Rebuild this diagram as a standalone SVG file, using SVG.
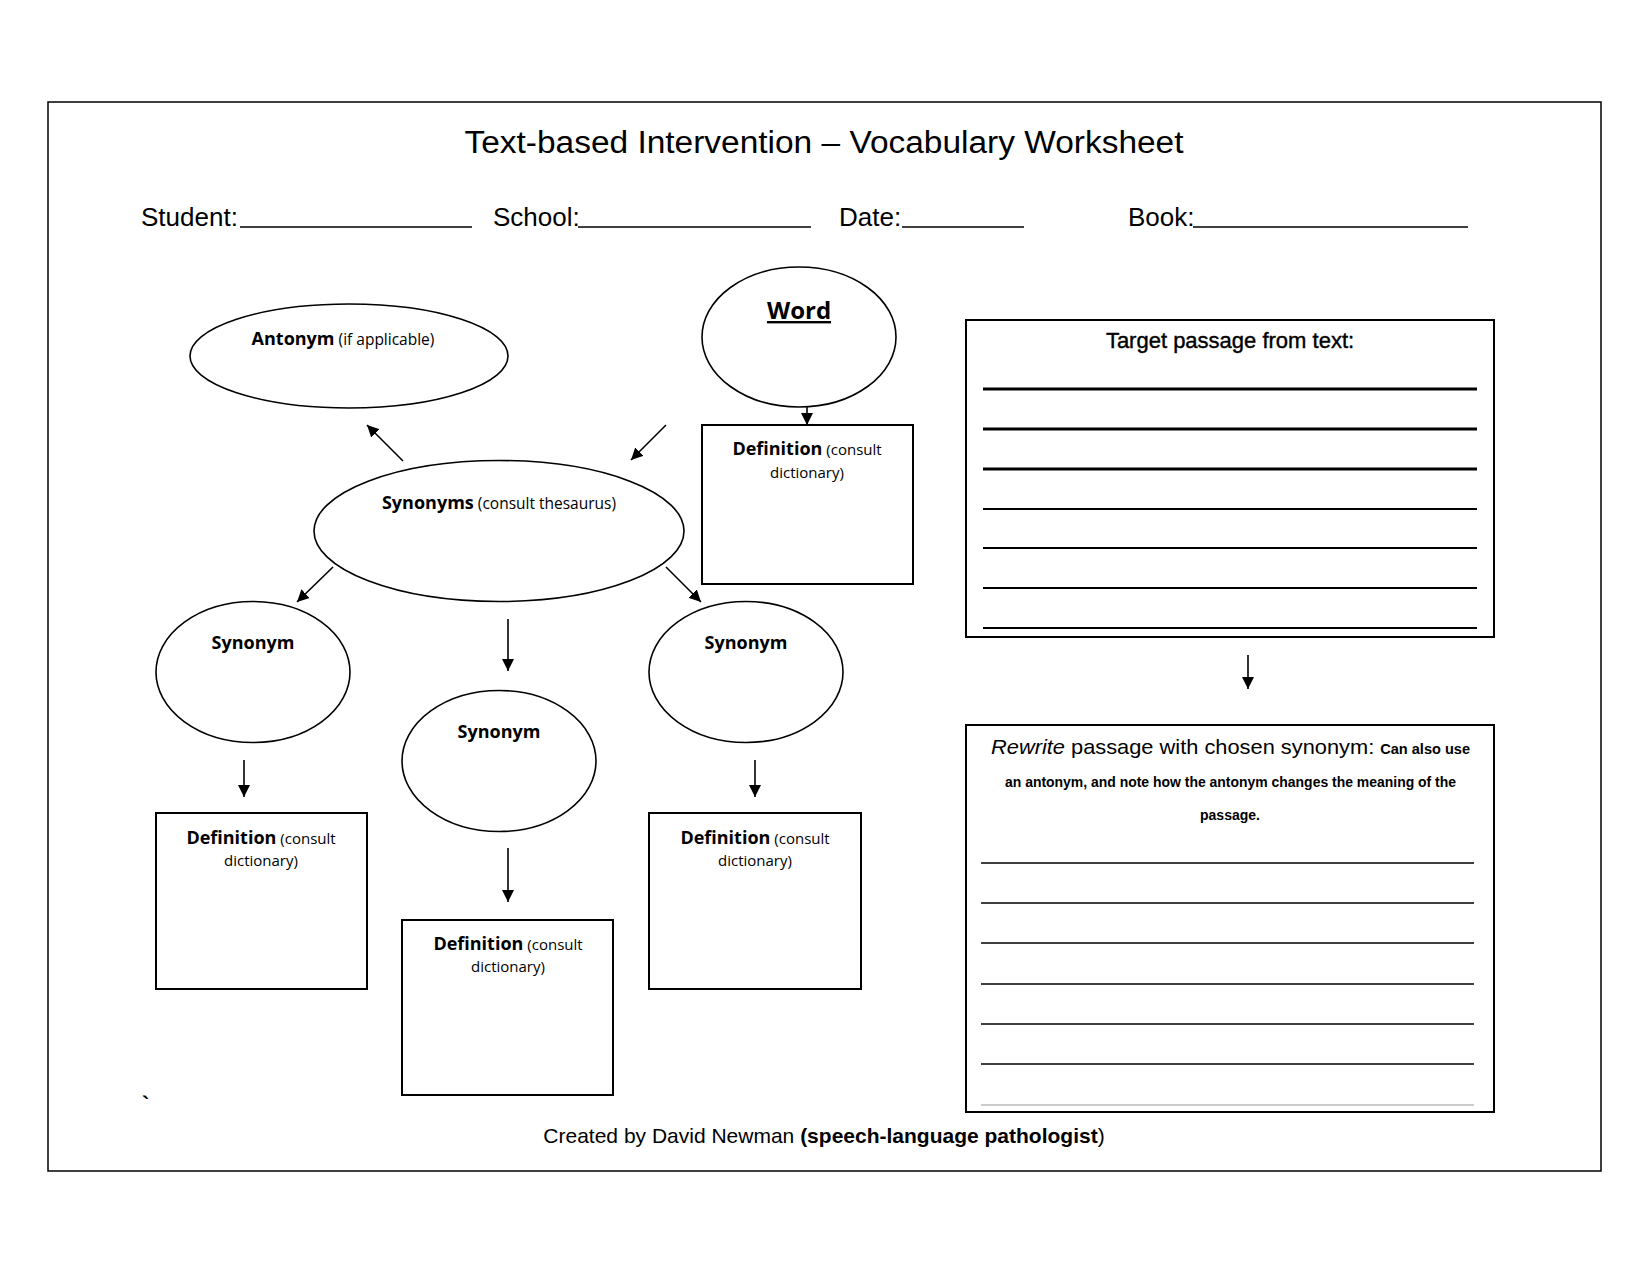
<svg xmlns="http://www.w3.org/2000/svg" width="1650" height="1275" viewBox="0 0 1650 1275">
<style>
.sh{fill:none;stroke:#000;stroke-width:1.6}
.bx{fill:none;stroke:#000;stroke-width:2}
.cn{stroke:#000;stroke-width:1.6;fill:none}
.sans{font-family:"Liberation Sans",Arial,sans-serif;fill:#000}
.cm{font-family:"Open Sans","Noto Sans",sans-serif;fill:#000;text-anchor:middle}
.b{font-weight:bold}
.ul{stroke:#000;stroke-width:1.6}
</style>
<defs>
<marker id="ah" markerUnits="userSpaceOnUse" markerWidth="14" markerHeight="12" refX="12" refY="6" orient="auto">
<path d="M0,0 L12,6 L0,12 Z" fill="#000"/>
</marker>
</defs>
<rect width="1650" height="1275" fill="#fff"/>
<rect x="48" y="102" width="1553" height="1069" fill="none" stroke="#000" stroke-width="1.5"/>

<g id="header">
<text class="sans" x="824" y="153" font-size="31" text-anchor="middle" textLength="719" lengthAdjust="spacingAndGlyphs">Text-based Intervention – Vocabulary Worksheet</text>
<text class="sans" x="141" y="226" font-size="26">Student:</text>
<line class="ul" x1="240" y1="227" x2="472" y2="227"/>
<text class="sans" x="493" y="226" font-size="26">School:</text>
<line class="ul" x1="578" y1="227" x2="811" y2="227"/>
<text class="sans" x="839" y="226" font-size="26">Date:</text>
<line class="ul" x1="902" y1="227" x2="1024" y2="227"/>
<text class="sans" x="1128" y="226" font-size="26">Book:</text>
<line class="ul" x1="1193" y1="227" x2="1468" y2="227"/>
</g>

<g id="antonym">
<ellipse class="sh" cx="349" cy="356" rx="159" ry="52"/>
<text class="cm" x="343" y="345" font-size="15.5"><tspan class="b" font-size="18">Antonym</tspan> (if applicable)</text>
</g>

<g id="word">
<ellipse class="sh" cx="799" cy="337" rx="97" ry="70"/>
<text class="cm b" x="799" y="319" font-size="24" text-decoration="underline">Word</text>
</g>

<g id="definition-word">
<rect class="bx" x="702" y="425" width="211" height="159"/>
<text class="cm" x="807" y="455" font-size="15"><tspan class="b" font-size="18">Definition</tspan> (consult</text>
<text class="cm" x="807" y="478" font-size="15">dictionary)</text>
</g>

<g id="synonyms">
<ellipse class="sh" cx="499" cy="531" rx="185" ry="70.5"/>
<text class="cm" x="499" y="509" font-size="15.5"><tspan class="b" font-size="18">Synonyms</tspan> (consult thesaurus)</text>
</g>

<g id="synonym-left">
<ellipse class="sh" cx="253" cy="672" rx="97" ry="70.5"/>
<text class="cm b" x="253" y="649" font-size="18">Synonym</text>
</g>
<g id="synonym-middle">
<ellipse class="sh" cx="499" cy="761" rx="97" ry="70.5"/>
<text class="cm b" x="499" y="738" font-size="18">Synonym</text>
</g>
<g id="synonym-right">
<ellipse class="sh" cx="746" cy="672" rx="97" ry="70.5"/>
<text class="cm b" x="746" y="649" font-size="18">Synonym</text>
</g>

<g id="definition-left">
<rect class="bx" x="156" y="813" width="211" height="176"/>
<text class="cm" x="261" y="844" font-size="15"><tspan class="b" font-size="18">Definition</tspan> (consult</text>
<text class="cm" x="261" y="866" font-size="15">dictionary)</text>
</g>
<g id="definition-middle">
<rect class="bx" x="402" y="920" width="211" height="175"/>
<text class="cm" x="508" y="950" font-size="15"><tspan class="b" font-size="18">Definition</tspan> (consult</text>
<text class="cm" x="508" y="972" font-size="15">dictionary)</text>
</g>
<g id="definition-right">
<rect class="bx" x="649" y="813" width="212" height="176"/>
<text class="cm" x="755" y="844" font-size="15"><tspan class="b" font-size="18">Definition</tspan> (consult</text>
<text class="cm" x="755" y="866" font-size="15">dictionary)</text>
</g>

<g id="target-passage">
<rect class="bx" x="966" y="320" width="528" height="317"/>
<text class="sans" x="1230" y="348" font-size="22" text-anchor="middle" stroke="#000" stroke-width="0.4">Target passage from text:</text>
<g stroke="#000">
<line x1="983" y1="389" x2="1477" y2="389" stroke-width="3"/>
<line x1="983" y1="429" x2="1477" y2="429" stroke-width="3"/>
<line x1="983" y1="469" x2="1477" y2="469" stroke-width="3"/>
<line x1="983" y1="509" x2="1477" y2="509" stroke-width="2"/>
<line x1="983" y1="548" x2="1477" y2="548" stroke-width="2"/>
<line x1="983" y1="588" x2="1477" y2="588" stroke-width="2"/>
<line x1="983" y1="628" x2="1477" y2="628" stroke-width="2"/>
</g>
</g>

<g id="rewrite-passage">
<rect class="bx" x="966" y="725" width="528" height="387"/>
<text class="sans" x="991" y="754" font-size="21" textLength="479" lengthAdjust="spacingAndGlyphs"><tspan font-style="italic">Rewrite</tspan> passage with chosen synonym: <tspan class="b" font-size="14">Can also use</tspan></text>
<text class="sans b" x="1005" y="787" font-size="14" textLength="451" lengthAdjust="spacingAndGlyphs">an antonym, and note how the antonym changes the meaning of the</text>
<text class="sans b" x="1230" y="820" font-size="14" text-anchor="middle">passage.</text>
<g stroke="#000" stroke-width="1.4">
<line x1="981" y1="863" x2="1474" y2="863"/>
<line x1="981" y1="903" x2="1474" y2="903"/>
<line x1="981" y1="943" x2="1474" y2="943"/>
<line x1="981" y1="984" x2="1474" y2="984"/>
<line x1="981" y1="1024" x2="1474" y2="1024"/>
<line x1="981" y1="1064" x2="1474" y2="1064"/>
<line x1="981" y1="1105" x2="1474" y2="1105" stroke="#bbb"/>
</g>
</g>

<g id="connectors">
<line class="cn" x1="807" y1="407" x2="807" y2="425" marker-end="url(#ah)"/>
<line class="cn" x1="403" y1="461" x2="367" y2="425" marker-end="url(#ah)"/>
<line class="cn" x1="666" y1="425" x2="631" y2="460" marker-end="url(#ah)"/>
<line class="cn" x1="333" y1="567" x2="297" y2="602" marker-end="url(#ah)"/>
<line class="cn" x1="666" y1="567" x2="701" y2="602" marker-end="url(#ah)"/>
<line class="cn" x1="508" y1="619" x2="508" y2="671" marker-end="url(#ah)"/>
<line class="cn" x1="244" y1="760" x2="244" y2="797" marker-end="url(#ah)"/>
<line class="cn" x1="755" y1="760" x2="755" y2="797" marker-end="url(#ah)"/>
<line class="cn" x1="508" y1="848" x2="508" y2="902" marker-end="url(#ah)"/>
<line class="cn" x1="1248" y1="655" x2="1248" y2="689" marker-end="url(#ah)"/>
</g>

<g id="footer">
<text class="sans b" x="142" y="1112" font-size="22">`</text>
<text class="sans" x="824" y="1143" font-size="21" text-anchor="middle">Created by David Newman <tspan class="b">(speech-language pathologist</tspan>)</text>
</g>
</svg>
